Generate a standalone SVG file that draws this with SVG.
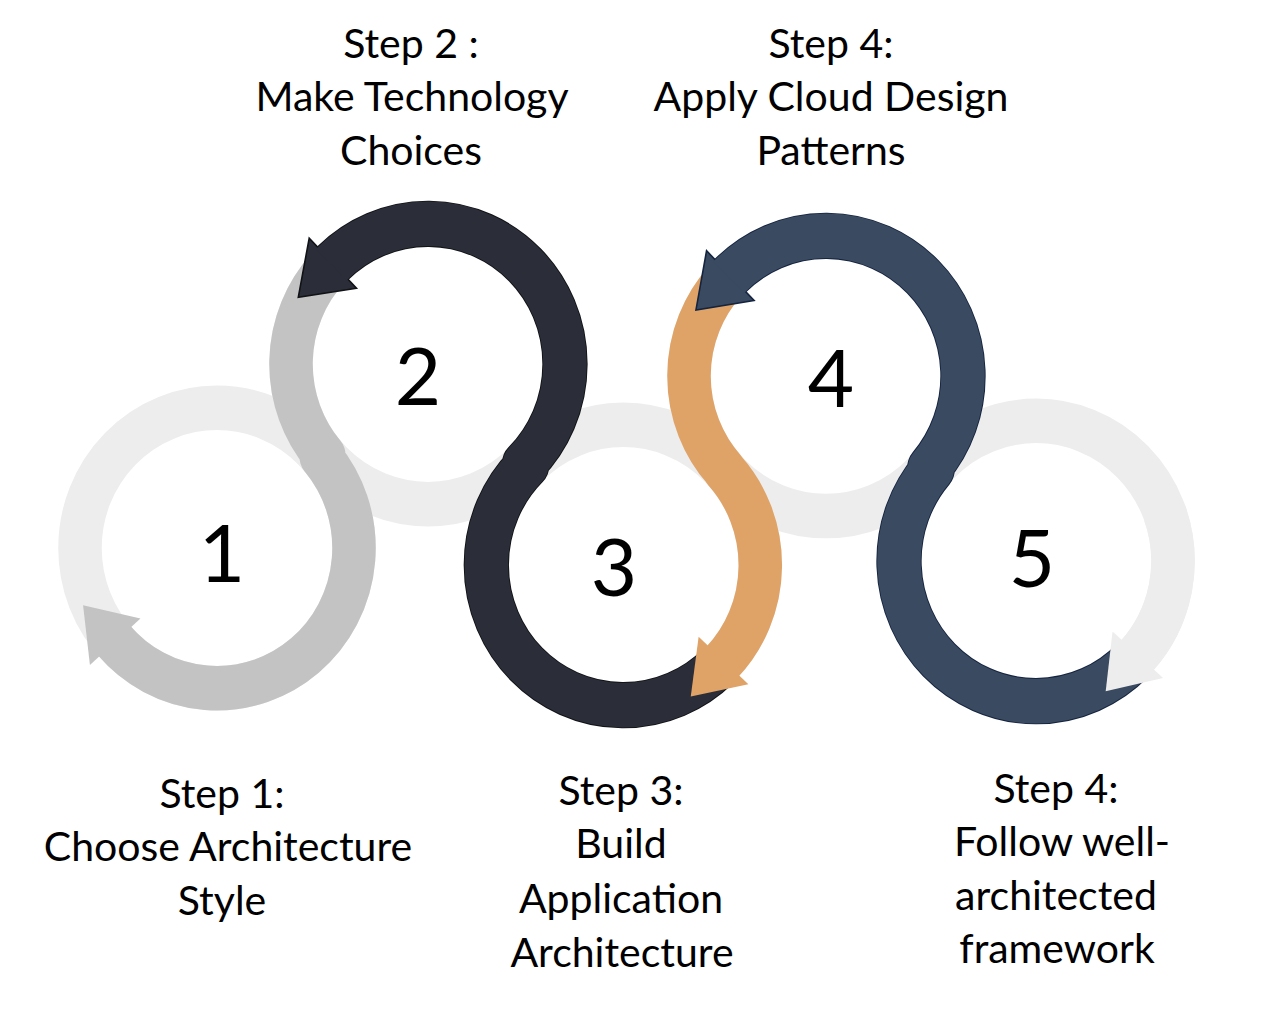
<svg xmlns="http://www.w3.org/2000/svg" width="1280" height="1010" viewBox="0 0 1280 1010">
<style>
.ring{fill:none;stroke:#EDEDED;stroke-width:43.5}
.num{font-family:Lato,"Open Sans",sans-serif;font-size:80px;fill:#000;text-anchor:middle}
.lbl{font-family:Lato,"Open Sans",sans-serif;font-size:41px;fill:#000;text-anchor:middle}
.shaft{fill:none;stroke-width:43.5;stroke-linejoin:round}
.edge{fill:none;stroke-width:45.3;stroke-linejoin:round}
</style>
<rect width="1280" height="1010" fill="#FFFFFF"/>
<g id="node-1">
<circle class="ring" cx="217" cy="535.7" r="137" transform="scale(1 1.023)"/>
<text class="num" x="222" y="582">1</text>
<text class="lbl"><tspan x="222" y="808">Step 1:</tspan><tspan x="228" y="861">Choose Architecture</tspan><tspan x="222" y="915">Style</tspan></text>
</g>
<g id="node-2">
<circle class="ring" cx="428" cy="355.8" r="137" transform="scale(1 1.023)"/>
<text class="num" x="418" y="405">2</text>
<text class="lbl"><tspan x="411" y="58">Step 2 :</tspan><tspan x="412" y="111">Make Technology</tspan><tspan x="411" y="165">Choices</tspan></text>
</g>
<g id="node-3">
<circle class="ring" cx="623.3" cy="552.3" r="137" transform="scale(1 1.023)"/>
<text class="num" x="614" y="596">3</text>
<text class="lbl"><tspan x="621" y="805">Step 3:</tspan><tspan x="621" y="858">Build</tspan><tspan x="621" y="913">Application</tspan><tspan x="622" y="967">Architecture</tspan></text>
</g>
<g id="node-4">
<circle class="ring" cx="826" cy="367.5" r="137" transform="scale(1 1.023)"/>
<text class="num" x="831" y="407">4</text>
<text class="lbl"><tspan x="831" y="58">Step 4:</tspan><tspan x="831" y="111">Apply Cloud Design</tspan><tspan x="831" y="165">Patterns</tspan></text>
</g>
<g id="node-5">
<circle class="ring" cx="1036" cy="548.4" r="137" transform="scale(1 1.023)"/>
<text class="num" x="1032" y="587">5</text>
<text class="lbl"><tspan x="1056" y="803">Step 4:</tspan><tspan x="1062" y="856">Follow well-</tspan><tspan x="1056" y="910">architected</tspan><tspan x="1057" y="963">framework</tspan></text>
</g>
<g id="connectors" transform="scale(1 1.023)">
<g id="arrow-1-2">
<path class="shaft" stroke="#C3C3C3" d="M 327.8 262.37 A 137 137 0 0 0 323.76 444.69 L 321.24 446.81 A 137 137 0 0 1 305.06 640.64 A 137 137 0 0 1 113.61 625.59"/>
<polygon fill="#C3C3C3" points="140.46,604.62 83.08,591.73 89.93,650.12"/>
</g>
<g id="arrow-2-3">
<path class="edge" stroke="#101216" d="M 718.47 650.84 A 137 137 0 0 1 526.43 649.17 A 137 137 0 0 1 526.73 455.13 L 524.57 452.97 A 137 137 0 0 0 524.87 258.93 A 137 137 0 0 0 332.83 257.26"/>
<polygon fill="#2B2E38" stroke="#101216" stroke-width="1.6" stroke-linejoin="miter" points="356.45,281.71 298.3,290.61 309.21,232.8"/>
<path class="shaft" stroke="#2B2E38" d="M 718.47 650.84 A 137 137 0 0 1 526.43 649.17 A 137 137 0 0 1 526.73 455.13 L 524.57 452.97 A 137 137 0 0 0 524.87 258.93 A 137 137 0 0 0 331.13 258.93"/>
</g>
<g id="arrow-3-4">
<path class="shaft" stroke="#DFA367" d="M 725.32 274.59 A 137 137 0 0 0 724.76 459.8 L 724.54 460.0 A 137 137 0 0 1 721.84 647.47"/>
<polygon fill="#DFA367" points="698.63,622.55 690.76,680.84 748.37,668.92"/>
</g>
<g id="arrow-4-5">
<path class="edge" stroke="#14233F" d="M 1132.87 645.27 A 137 137 0 0 1 939.13 645.27 A 137 137 0 0 1 932.2 458.99 L 929.8 456.91 A 137 137 0 0 0 922.87 270.63 A 137 137 0 0 0 730.32 269.45"/>
<polygon fill="#3A4A60" stroke="#14233F" stroke-width="1.6" stroke-linejoin="miter" points="754.06,293.78 695.97,302.97 706.57,245.12"/>
<path class="shaft" stroke="#3A4A60" d="M 1132.87 645.27 A 137 137 0 0 1 939.13 645.27 A 137 137 0 0 1 932.2 458.99 L 929.8 456.91 A 137 137 0 0 0 922.87 270.63 A 137 137 0 0 0 728.62 271.13"/>
</g>
<g id="arrow-5">
<path class="shaft" stroke="#EDEDED" d="M 1164.74 501.54 A 137 137 0 0 1 1136.2 641.83"/>
<polygon fill="#EDEDED" points="1112.54,617.32 1105.68,675.74 1163.07,662.82"/>
</g>
</g>
</svg>
